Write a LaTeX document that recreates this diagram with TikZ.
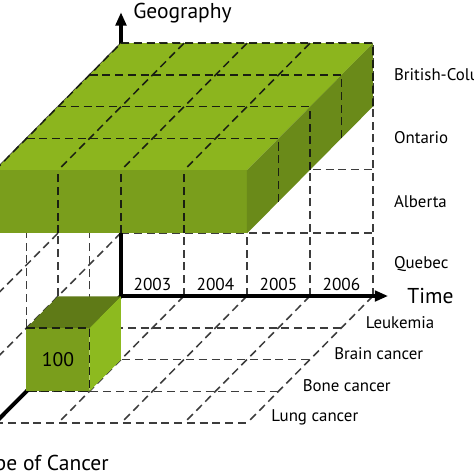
\documentclass[tikz,border=0pt]{standalone}
\usepackage{fontspec}
\setmainfont{PT Sans}
\usepackage{tikz}
\usetikzlibrary{arrows.meta,positioning,calc}
\definecolor{gridink}{HTML}{3C3C3C}
\definecolor{faceink}{HTML}{1A1F12}
\definecolor{slabtop}{HTML}{8CB51E}
\definecolor{slabfront}{HTML}{7A9E1C}
\definecolor{slabside}{HTML}{6A8A19}
\definecolor{cubetop}{HTML}{5F7A17}
\definecolor{cubefront}{HTML}{7A9E1C}
\definecolor{cubeside}{HTML}{8DBA1F}
\tikzset{
  gridline/.style={draw=gridink,line width=1.1pt,dash pattern=on 5.7pt off 3.4pt},
  faceline/.style={gridline,draw=faceink},
  axisline/.style={draw=black,line width=2.8pt,line cap=rect},
  axisarr/.style={axisline,-{Triangle[length=9.5pt,width=7.5pt]}},
  axlabel/.style={font=\fontsize{15.3}{17}\selectfont,inner sep=0pt},
  yearlabel/.style={font=\fontsize{12.3}{14}\selectfont,inner sep=0pt},
  geolabel/.style={font=\fontsize{12}{14}\selectfont,anchor=west,inner sep=0pt},
  catlabel/.style={font=\fontsize{12}{14}\selectfont,anchor=west,inner sep=0pt},
  celllabel/.style={font=\fontsize{14}{16}\selectfont,inner sep=0pt}
}

\begin{document}
\begin{tikzpicture}[x={(1.575cm,0cm)},y={(0cm,1.58cm)},z={(-0.7875cm,-0.794cm)}]
    \path[use as bounding box] (-3.025cm,-4.45cm) rectangle (8.825cm,7.4cm);
    \clip (-3.025cm,-4.45cm) rectangle (8.825cm,7.4cm);

    \coordinate (O) at (0,0,0);
    \coordinate (timetip) at (4.24,0,0);
    \coordinate (geotip) at (0,4.49,0);
    \coordinate (cancerend) at (0,0,5.5);

    % floor, back wall and side wall
    \foreach \k in {1,...,4}{
      \draw[gridline] (0,0,\k) -- (4,0,\k);
      \draw[gridline] (\k,0,0) -- (\k,0,4);
      \draw[gridline] (\k,0,0) -- (\k,4,0);
      \draw[gridline] (0,\k,0) -- (4,\k,0);
      \draw[gridline] (0,0,\k) -- (0,4,\k);
      \draw[gridline] (0,\k,0) -- (0,\k,4);
    }

    \draw[axisline] (O) -- (cancerend);
    \draw[axisarr] (O) -- (timetip);
    \draw[axisarr] (O) -- (geotip);

    % slab: all years, all cancers, top province
    \fill[slabtop] (0,4,0) -- (4,4,0) -- (4,4,4) -- (0,4,4) -- cycle;
    \fill[slabfront] (0,3,4) -- (4,3,4) -- (4,4,4) -- (0,4,4) -- cycle;
    \fill[slabside] (4,3,0) -- (4,4,0) -- (4,4,4) -- (4,3,4) -- cycle;
    \foreach \k in {1,2,3}{
      \draw[faceline] (0,4,\k) -- (4,4,\k);
      \draw[faceline] (\k,4,0) -- (\k,4,4);
      \draw[faceline] (\k,3,4) -- (\k,4,4);
      \draw[faceline] (4,3,\k) -- (4,4,\k);
    }
    \draw[faceline] (0,4,4) -- (0,4,0) -- (4,4,0) -- (4,3,0);

    % single cell
    \fill[cubetop] (0,1,2) -- (1,1,2) -- (1,1,3) -- (0,1,3) -- cycle;
    \fill[cubefront] (0,0,3) -- (1,0,3) -- (1,1,3) -- (0,1,3) -- cycle;
    \fill[cubeside] (1,0,2) -- (1,1,2) -- (1,1,3) -- (1,0,3) -- cycle;
    \draw[faceline] (0,1,3) -- (1,1,3) -- (1,0,3) -- (0,0,3);
    \node[celllabel] (cell) at (0.5,0.5,3) {100};

    \foreach \t/\yr in {0/2003,1/2004,2/2005,3/2006}
      \node[yearlabel,anchor=base,yshift=0.14cm] (yr\yr) at (\t+0.5,0,0) {\yr};
    \foreach \g/\name in {3/British-Columbia,2/Ontario,1/Alberta,0/Quebec}
      \node[geolabel] (geo\g) at (4.33,\g+0.5,0) {\name};
    \foreach \d/\name in {1/Leukemia,2/Brain cancer,3/Bone cancer,4/Lung cancer}{
      \coordinate (row\d) at (4,0,\d);
      \node[catlabel,right=0.6cm of row\d,yshift=0.14cm] (cat\d) {\name};
    }

    \node[axlabel,right=0.475cm of timetip] (timelbl) {Time};
    \node[axlabel,anchor=base west] (geolbl) at ($(geotip)+(0.3cm,-0.16cm)$) {Geography};
    \node[axlabel,anchor=base east] (cancerlbl) at (-0.3cm,-4.35cm) {Type of Cancer};
\end{tikzpicture}
\end{document}
